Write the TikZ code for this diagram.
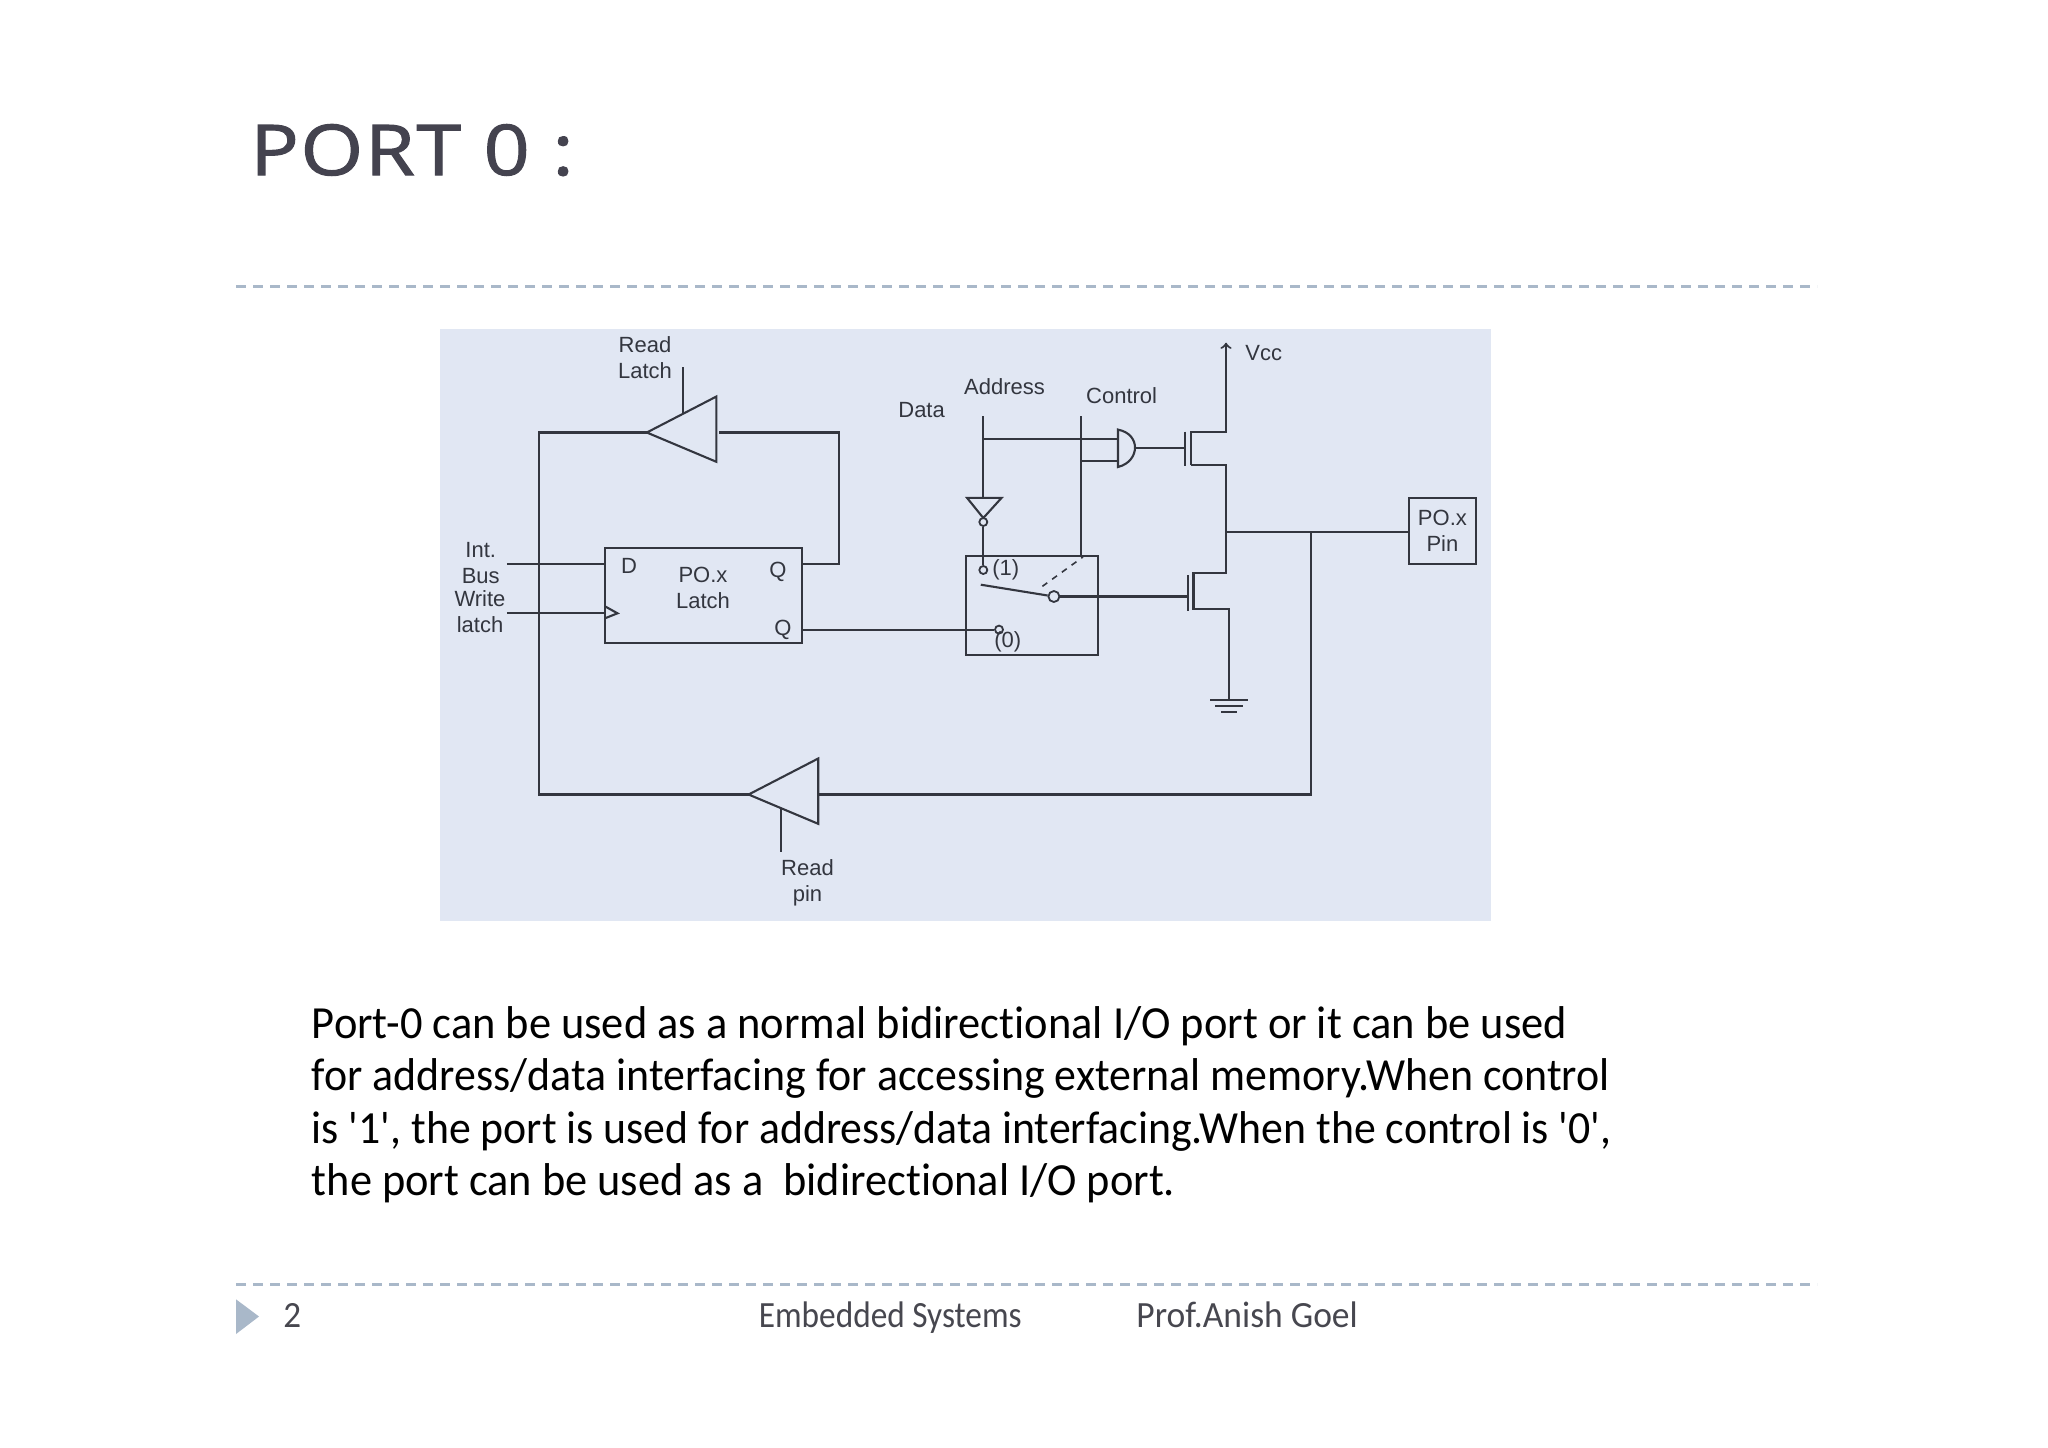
\documentclass[tikz,border=0pt]{standalone}
\usepackage{fontspec}
\newfontfamily\bodyfont[FakeStretch=0.95,Ligatures=NoCommon]{Carlito}
\newfontfamily\footfont[Ligatures=NoCommon]{Carlito}
\newfontfamily\labelfont{Liberation Sans}
\newfontfamily\titlefont[LetterSpace=2.5,FakeStretch=1.15,FakeBold=1.6]{Open Sans}
\definecolor{panelblue}{HTML}{E1E7F3}
\definecolor{rulegray}{HTML}{A9B8C9}
\definecolor{wiregray}{HTML}{33363F}
\definecolor{titlegray}{HTML}{44434F}
\definecolor{footgray}{HTML}{47474F}
\tikzset{
  wire/.style={draw=wiregray, line width=1.05pt},
  pbox/.style={draw=wiregray, line width=1.05pt, inner sep=0pt},
  bubble/.style={circle, draw=wiregray, line width=0.9pt, fill=panelblue, inner sep=0pt, minimum size=#1},
  lbl/.style={font=\labelfont\fontsize{11}{13}\selectfont, text=wiregray, align=center, anchor=center, inner sep=0pt},
  bodyline/.style={font=\bodyfont\fontsize{23}{26}\selectfont, anchor=base west, inner sep=0pt, transform shape},
  footline/.style={font=\footfont\fontsize{18.5}{22}\selectfont, text=footgray, anchor=base west, inner sep=0pt, transform shape},
  dashrule/.style={draw=rulegray, line width=1.5pt, dash pattern=on 5pt off 3.5pt}
}
\begin{document}
\begin{tikzpicture}[x=0.5pt,y=-0.5pt]
      \useasboundingbox (0,0) rectangle (2048,1447);
      \fill[white] (0,0) rectangle (2048,1447);

      % Slide Frame
      \node[font=\titlefont\fontsize{35}{40}\selectfont, text=titlegray, anchor=base west, inner sep=0pt] (title) at (250,175) {PORT 0 :};
      \foreach \n/\y in {top/286, bottom/1284} {
          \coordinate (rule\n W) at (236,\y);
          \coordinate (rule\n E) at (1817,\y);
          \draw[dashrule] (rule\n W) -- (rule\n E);
        }

      % Panel
      \fill[panelblue] (440,329) rectangle (1491,921);

      % Buffers
      \foreach \n/\x/\y in {rdlatch/646.8/432.5, rdpin/748.6/794.5} {
          \coordinate (\n tip) at (\x,\y);
          \coordinate (\n base) at (\x+69.6,\y);
          \draw[wire, line join=miter] (\n tip) -- ++(69.6,-36) -- ++(0,65.3) -- cycle;
        }

      % Boxes
      \node[pbox, minimum width=98.7pt, minimum height=47.5pt] (latch) at (703.3,595.2) {};
      \node[pbox, minimum width=66pt, minimum height=49.5pt] (switch) at (1032,605.5) {};
      \node[pbox, minimum width=33.3pt, minimum height=33.3pt, align=center] (pin) at (1442.7,531) {};

      % Latch Pins
      \draw[wire] (605.7,606.7) -- (617.5,613.3) -- (605.7,618);
      \coordinate (intbus) at (506.8,564.3);
      \coordinate (wrlatch) at (506.8,613.3);
      \draw[wire] (intbus) -- (latch.west |- intbus);
      \draw[wire] (wrlatch) -- (latch.west |- wrlatch);

      % Feedback Loops
      \coordinate (fbright) at (838.6,432.5);
      \coordinate (fbrightlow) at (838.6,564);
      \coordinate (loopup) at (539.3,432.5);
      \coordinate (looplow) at (539.3,794.5);
      \coordinate (pinbranch) at (1311.4,531.6);
      \coordinate (pinlow) at (1311.4,794.5);
      \draw[wire] (rdlatchtip) -- (loopup) -- (looplow) -- (rdpintip);
      \draw[wire] (rdlatchbase) ++(3,0) -- (fbright) -- (fbrightlow) -- (latch.east |- fbrightlow);
      \draw[wire] (rdpinbase) -- (pinlow) -- (pinbranch);

      % Read Enables
      \coordinate (enlatchA) at (683.2,367);
      \coordinate (enlatchB) at (683.2,414);
      \coordinate (enpinA) at (781.4,809);
      \coordinate (enpinB) at (781.4,852);
      \draw[wire] (enlatchA) -- (enlatchB);
      \draw[wire] (enpinA) -- (enpinB);

      % Inverter
      \coordinate (invleft) at (967,497.8);
      \coordinate (invright) at (1001.6,497.8);
      \coordinate (invtip) at (983.3,518);
      \draw[wire] (invleft) -- (invright) -- (invtip) -- cycle;
      \node[bubble=4pt] (invout) at (983.3,522) {};

      % Switch
      \node[bubble=4pt] (swone) at (983.3,570) {};
      \node[bubble=4pt] (swzero) at (999,629.6) {};
      \node[bubble=5.5pt] (swarm) at (1053.9,596.5) {};
      \coordinate (armend) at (980.8,584.7);
      \coordinate (dashA) at (1042.4,586.3);
      \coordinate (dashB) at (1082.9,557);
      \coordinate (qbar) at (802,629.6);
      \draw[wire] (armend) -- (swarm);
      \draw[wire, dashed, line width=0.8pt] (dashA) -- (dashB);
      \draw[wire] (invout) -- (swone);
      \draw[wire] (qbar) -- (swzero);

      % And Gate
      \coordinate (andnw) at (1118,429.6);
      \coordinate (andsw) at (1118,467);
      \coordinate (andout) at (1135,447.6);
      \draw[wire] (andnw) .. controls (1130,432) and (1135,440) .. (andout) .. controls (1135,455) and (1130,464) .. (andsw) -- cycle;
      \coordinate (addrtop) at (983.3,416);
      \coordinate (addrbranch) at (983.3,439.4);
      \coordinate (ctrltop) at (1081.2,416);
      \coordinate (ctrlbranch) at (1081.2,461);
      \draw[wire] (addrtop) -- (invleft -| addrtop);
      \draw[wire] (addrbranch) -- (andnw |- addrbranch);
      \draw[wire] (ctrltop) -- (ctrltop |- switch.north);
      \draw[wire] (ctrlbranch) -- (andnw |- ctrlbranch);

      % Transistors
      \coordinate (vcc) at (1226,342.7);
      \coordinate (midrail) at (1226,531.6);
      \coordinate (gnd) at (1229,699.8);
      \coordinate (gatelow) at (1187.8,596.5);
      \draw[wire] (andout) -- (1185.3,447.6);
      \draw[wire] (1185.3,431.6) -- (1185.3,466);
      \draw[wire, ->] (1191,465) -- (1191,431.6) -- (1226,431.6) -- (vcc);
      \draw[wire] (1191,465) -- (1226,465) -- (1226,573.3) -- (1193.5,573.3) -- (1193.5,609) -- (1229,609) -- (gnd);
      \draw[wire] (1187.8,575) -- (1187.8,611);
      \draw[wire] (swarm) -- (gatelow);
      \draw[wire] (midrail) -- (pin.west |- midrail);

      % Ground
      \foreach \y/\w in {699.8/19, 706/14, 712/8} {
          \draw[wire] (1229-\w,\y) -- (1229+\w,\y);
        }

      % Labels
      \node[lbl] (readlatch) at (645,358) {Read\\Latch};
      \node[lbl] (intlabel) at (480.7,563.5) {Int.\\Bus};
      \node[lbl] (writelabel) at (480,612) {Write\\latch};
      \node[lbl] (dlabel) at (629,566) {D};
      \node[lbl] (qlabel) at (778,571.5) {Q};
      \node[lbl] (qbarlabel) at (783,630) {Q};
      \node[lbl] (latchlabel) at (703,587.5) {PO.x\\Latch};
      \node[lbl] (readpin) at (807.5,883) {Read\\pin};
      \node[lbl] (datalabel) at (921.6,410.5) {Data};
      \node[lbl] (addrlabel) at (1004.5,387) {Address};
      \node[lbl] (ctrllabel) at (1121.6,395.5) {Control};
      \node[lbl] (vcclabel) at (1263.7,352.8) {Vcc};
      \node[lbl] (onelabel) at (1005.7,570) {(1)};
      \node[lbl] (zerolabel) at (1007.8,641.8) {(0)};
      \node[lbl] (pinlabel) at (1442.4,531) {PO.x\\Pin};

      % Body Text
      \foreach \n/\y/\s/\t in {
          one/1038/1.017/{Port-0 can be used as a normal bidirectional I/O port or it can be used},
          two/1090/1.004/{for address/data interfacing for accessing external memory.When control},
          three/1143/1.002/{is '1', the port is used for address/data interfacing.When the control is '0',},
          four/1195/1.015/{the port can be used as a\ \ bidirectional I/O port.}} {
          \node[bodyline, xscale=\s] (body\n) at (311.5,\y) {\t};
        }

      % Footer
      \fill[rulegray] (236,1299.3) -- (259,1316.5) -- (236,1334) -- cycle;
      \node[footline, xscale=0.95] (pageno) at (283,1327) {2};
      \node[footline, xscale=0.9] (course) at (758.5,1327) {Embedded Systems};
      \node[footline, xscale=0.96] (prof) at (1136,1327) {Prof.Anish Goel};

    \end{tikzpicture}
\end{document}
